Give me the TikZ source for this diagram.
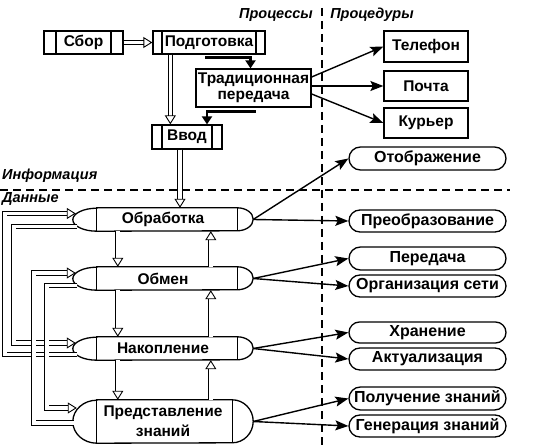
\documentclass[tikz,border=0pt]{standalone}
\usepackage{fontspec}
\setmainfont{Liberation Sans}
\usetikzlibrary{arrows.meta,shapes.misc,calc}
\newcommand\pcaps[4]{%
  \draw[boxline] ([xshift=#2]#1.north west) -- ([xshift=-#3]#1.north east)
    arc[start angle=90,end angle=-90,x radius=#3,y radius=#4]
    -- ([xshift=#2]#1.south west)
    arc[start angle=270,end angle=90,x radius=#2,y radius=#4] -- cycle;
  \draw[boxline] ([xshift=#2]#1.north west) -- ([xshift=#2]#1.south west);
  \draw[boxline] ([xshift=-#3]#1.north east) -- ([xshift=-#3]#1.south east);}
\begin{document}
\begin{tikzpicture}[x=1pt,y=1pt,
  boxline/.style={line width=1.3pt},
  txt/.style={font=\bfseries\fontsize{15.5}{16}\selectfont},
  plain/.style={draw,line width=1.3pt,inner sep=0pt,txt,align=center},
  sidebox/.style={plain,path picture={
     \draw[line width=1.3pt] ([xshift=#1]path picture bounding box.north west) -- ([xshift=#1]path picture bounding box.south west);
     \draw[line width=1.3pt] ([xshift=-#1]path picture bounding box.north east) -- ([xshift=-#1]path picture bounding box.south east);}},
  pill/.style={plain,rounded rectangle,minimum width=157pt,minimum height=22pt,font=\bfseries\fontsize{16}{16}\selectfont},
  proc/.style={inner sep=0pt,font=\bfseries\fontsize{15.5}{20}\selectfont,minimum width=180pt,align=center},
  dbl/.style={line width=0.9pt,double,double distance=3.4pt,-{Triangle[open,length=9pt,width=11pt]}},
  arr/.style={line width=1.4pt,-{Stealth[length=13pt,width=10pt,inset=2.5pt]}},
  bar/.style={line width=2.6pt,-{Triangle[length=8pt,width=10pt]}},
  lab/.style={font=\bfseries\itshape\fontsize{14.5}{15}\selectfont,inner sep=0pt},
  dsh/.style={line width=1.8pt,dash pattern=on 8pt off 5pt}]
\useasboundingbox (0,0) rectangle (554,-446);

% dashed separators
\draw[dsh] (0,-190) -- (510,-190);
\draw[dsh] (322,-8) -- (322,-446);

% labels
\node[lab] (lproc) at (276,-15) {Процессы};
\node[lab] (lprd) at (372,-15) {Процедуры};
\node[lab,anchor=west] (linf) at (2,-176) {Информация};
\node[lab,anchor=west] (ldat) at (2,-199) {Данные};

% upper boxes
\node[sidebox=12pt,minimum width=79pt,minimum height=23pt] (sbor) at (83.5,-42.5) {Сбор};
\node[sidebox=9pt,minimum width=112pt,minimum height=23pt] (podg) at (209,-42.5) {Подготовка};
\node[plain,minimum width=115pt,minimum height=38pt] (trad) at (253.5,-88) {Традиционная\\передача};
\node[sidebox=10pt,minimum width=70pt,minimum height=24pt] (vvod) at (187,-137) {Ввод};

\node[plain,minimum width=84pt,minimum height=31pt] (tel) at (426,-46.5) {Телефон};
\node[plain,minimum width=84pt,minimum height=30pt] (pochta) at (426,-86) {Почта};
\node[plain,minimum width=84pt,minimum height=30pt] (kur) at (426,-123) {Курьер};

% right pills
\node[pill,minimum height=23pt] (otobr) at (427.5,-158.5) {Отображение};
\node[pill] (pre) at (427.5,-221) {Преобразование};
\node[pill,minimum height=23pt] (per) at (427.5,-258.5) {Передача};
\node[pill] (org) at (427.5,-286) {Организация сети};
\node[pill,minimum height=21pt] (hran) at (427.5,-332.5) {Хранение};
\node[pill] (akt) at (427.5,-359) {Актуализация};
\node[pill,minimum height=23pt] (pol) at (427.5,-398.5) {Получение знаний};
\node[pill] (gen) at (427.5,-426) {Генерация знаний};

% process capsules
\node[proc,minimum height=23pt] (obr) at (163,-219.5) {Обработка};
\pcaps{obr}{24pt}{16pt}{11.5pt}
\node[proc,minimum height=23pt] (obm) at (163,-278.5) {Обмен};
\pcaps{obm}{24pt}{16pt}{11.5pt}
\node[proc,minimum height=23pt] (nak) at (163,-348.5) {Накопление};
\pcaps{nak}{24pt}{16pt}{11.5pt}
\node[proc,minimum height=43pt] (pred) at (163,-421.5) {Представление\\знаний};
\pcaps{pred}{24pt}{21pt}{21.5pt}

% upper connectors
\draw[dbl] (sbor) -- (podg);
\draw[dbl] ($(podg.south west)+(18,0)$) -- ($(vvod.north west)+(19,0)$);
\draw[dbl] ($(vvod.south)+(-7,0)$) -- ($(obr.north)+(17,0)$);
\draw[bar] ($(podg.south)+(-4,-3)$) -| ([xshift=-3pt]trad.north);
\draw[bar] ($(trad.south)+(2,-4)$) -| ([xshift=20pt]vvod.north);

% vertical links between processes
\foreach \a/\b in {obr/obm,obm/nak,nak/pred}{
  \draw[dbl] ($(\a.south west)+(45,0)$) -- ($(\b.north west)+(45,0)$);
  \draw[dbl] ($(\b.north west)+(138,0)$) -- ($(\a.south west)+(138,0)$);
}

% feedback loops on the left
\draw[dbl] ($(nak.west)+(4,-6)$) -- ++(-72,0) |- ($(obr.west)+(3,6)$);
\draw[dbl] ($(obr.west)+(4,-7)$) -- ++(-63,0) |- ($(nak.west)+(3,5.5)$);
\draw[dbl] ($(pred.west)+(1,-1.5)$) -- ++(-40,0) |- ($(obm.west)+(3,5.5)$);
\draw[dbl] ($(obm.west)+(4,-7)$) -- ++(-30,0) |- ($(pred.west)+(4,13.5)$);

% procedures
\draw[arr] ($(trad.east)+(0,11)$) -- (tel.west);
\draw[arr] ($(trad.east)+(0,2)$) -- (pochta.west);
\draw[arr] ($(trad.east)+(0,-6)$) -- (kur.west);
\draw[arr] (obr.east) -- (otobr.west);
\draw[arr] (obr.east) -- (pre.west);
\draw[arr] (obm.east) -- (per.west);
\draw[arr] (obm.east) -- (org.west);
\draw[arr] (nak.east) -- (hran.west);
\draw[arr] (nak.east) -- (akt.west);
\draw[arr] (pred.east) -- (pol.west);
\draw[arr] (pred.east) -- (gen.west);
\end{tikzpicture}
\end{document}
